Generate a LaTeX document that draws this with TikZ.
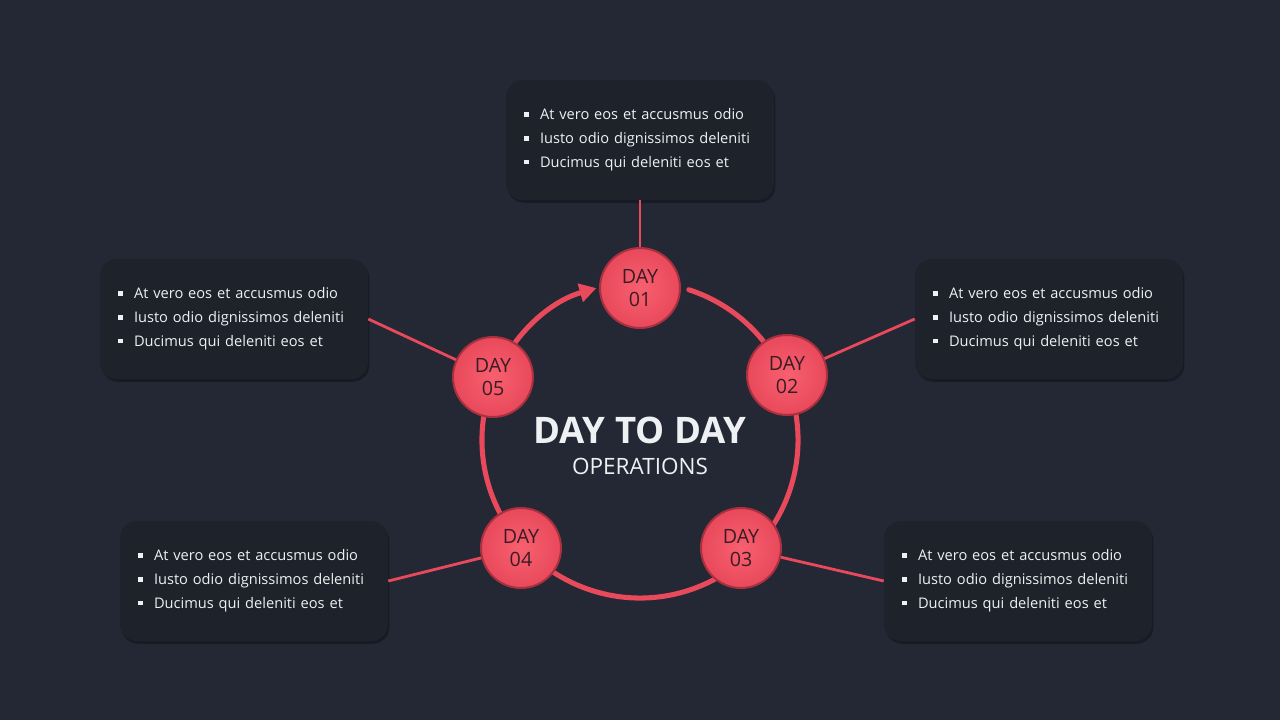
\documentclass[tikz,border=0pt]{standalone}
\usepackage{fontspec}
\setmainfont{Open Sans}
\usetikzlibrary{arrows.meta, shadows}
\definecolor{OpsNavy}{HTML}{232834}
\definecolor{OpsPanel}{HTML}{1E222B}
\definecolor{OpsRed}{HTML}{E8495B}
\definecolor{OpsRim}{HTML}{A8303F}
\definecolor{OpsLight}{HTML}{F8606F}
\definecolor{OpsInk}{HTML}{3A1C26}
\definecolor{OpsWhite}{HTML}{EEF0F3}

\newcommand{\opsitem}[1]{\raisebox{0.22em}{\rule{3.4pt}{3.4pt}}\hspace{8pt}#1}

\begin{document}
\begin{tikzpicture}[
    font=\fontsize{10.4}{17}\selectfont,
    panel/.style={fill=OpsPanel, rounded corners=12pt, text=OpsWhite, text width=5.8cm, inner xsep=0.45cm, minimum height=3cm, align=left, drop shadow={fill=black, opacity=0.3, shadow xshift=1pt, shadow yshift=-2pt}},
    daydot/.style={circle, minimum size=2cm, inner sep=0pt, draw=OpsRim, line width=1.4pt, inner color=OpsLight, outer color=OpsRed, text=OpsInk, align=center, font=\fontsize{14}{16.5}\selectfont},
    link/.style={OpsRed, line width=2pt},
    ring/.style={OpsRed, line width=3.6pt, line cap=round}
  ]
                \fill[OpsNavy] (0,0) rectangle (32,18);
                \useasboundingbox (0,0) rectangle (32,18);

                % Ring
                \coordinate (hub) at (16,7);
                \draw[ring, -{Triangle[length=12pt, width=13pt]}] ([shift={(72:3.95)}]hub) arc[start angle=72, end angle=-254, radius=3.95];

                % Days
                \node[daydot] (d1) at (16,10.8) {DAY\\01};
                \node[daydot] (d2) at (19.675,8.625) {DAY\\02};
                \node[daydot] (d3) at (18.525,4.3) {DAY\\03};
                \node[daydot] (d4) at (13.025,4.3) {DAY\\04};
                \node[daydot] (d5) at (12.325,8.575) {DAY\\05};

                % Panels
                \node[panel] (top) at (16,14.5) {\opsitem{At vero eos et accusmus odio}\\\opsitem{Iusto odio dignissimos deleniti}\\\opsitem{Ducimus qui deleniti eos et}};
                \node[panel] (rt) at (26.225,10.025) {\opsitem{At vero eos et accusmus odio}\\\opsitem{Iusto odio dignissimos deleniti}\\\opsitem{Ducimus qui deleniti eos et}};
                \node[panel] (rb) at (25.45,3.475) {\opsitem{At vero eos et accusmus odio}\\\opsitem{Iusto odio dignissimos deleniti}\\\opsitem{Ducimus qui deleniti eos et}};
                \node[panel] (lb) at (6.35,3.475) {\opsitem{At vero eos et accusmus odio}\\\opsitem{Iusto odio dignissimos deleniti}\\\opsitem{Ducimus qui deleniti eos et}};
                \node[panel] (lt) at (5.85,10.025) {\opsitem{At vero eos et accusmus odio}\\\opsitem{Iusto odio dignissimos deleniti}\\\opsitem{Ducimus qui deleniti eos et}};

                \draw[link] (top) -- (d1);
                \draw[link] (rt.west) -- (d2);
                \draw[link] (rb.west) -- (d3);
                \draw[link] (lb.east) -- (d4);
                \draw[link] (lt.east) -- (d5);

                % Labels
                \node[OpsWhite, font=\bfseries\fontsize{26}{30}\selectfont] (title) at (16,7.25) {DAY TO DAY};
                \node[OpsWhite, font=\fontsize{16}{20}\selectfont] (subtitle) at (16,6.35) {OPERATIONS};
\end{tikzpicture}
\end{document}
